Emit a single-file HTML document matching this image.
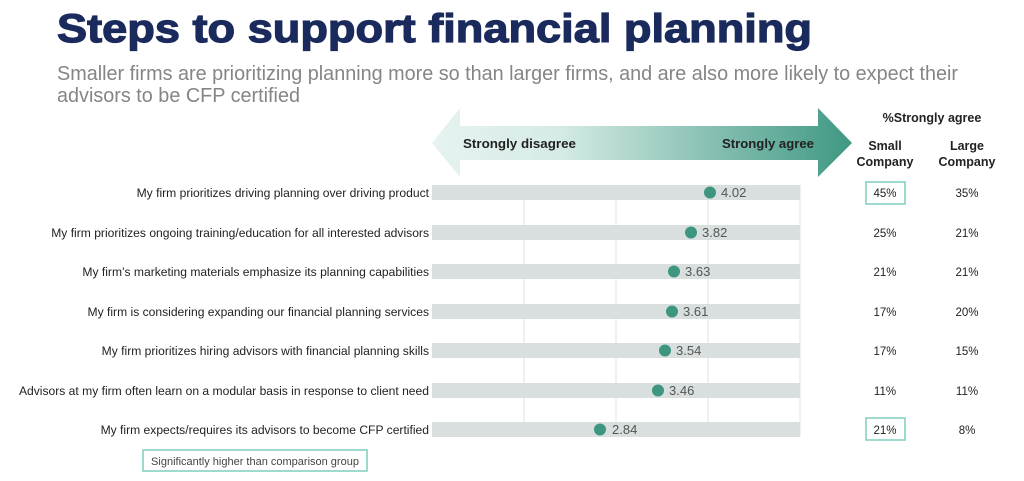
<!DOCTYPE html>
<html><head><meta charset="utf-8"><style>
html,body{margin:0;padding:0;background:#fff;}
svg{display:block;font-family:"Liberation Sans",Arial,sans-serif;}
</style></head><body>
<svg width="1024" height="481" viewBox="0 0 1024 481" xmlns="http://www.w3.org/2000/svg">
<defs>
<linearGradient id="g" x1="0" x2="1" y1="0" y2="0">
<stop offset="0" stop-color="#e6f3f0"/>
<stop offset="0.3" stop-color="#d6ebe6"/>
<stop offset="1" stop-color="#3f9883"/>
</linearGradient>
</defs>
<text x="57" y="42" font-size="40" font-weight="bold" fill="#1b2a5c" textLength="755" lengthAdjust="spacingAndGlyphs" stroke="#1b2a5c" stroke-width="1.2">Steps to support financial planning</text>
<text x="57" y="80" font-size="20" fill="#858585" textLength="901" lengthAdjust="spacingAndGlyphs">Smaller firms are prioritizing planning more so than larger firms, and are also more likely to expect their</text>
<text x="57" y="102" font-size="20" fill="#858585" textLength="243" lengthAdjust="spacingAndGlyphs">advisors to be CFP certified</text>
<polygon points="432,143 460,108 460,126 818,126 818,108 852,143 818,177 818,160 460,160 460,177" fill="url(#g)"/>
<text x="463" y="148" font-size="12.5" font-weight="bold" fill="#222" textLength="113" lengthAdjust="spacingAndGlyphs">Strongly disagree</text>
<text x="722" y="148" font-size="12.5" font-weight="bold" fill="#222" textLength="92" lengthAdjust="spacingAndGlyphs">Strongly agree</text>
<text x="932" y="122" font-size="12.5" font-weight="bold" fill="#222" text-anchor="middle">%Strongly  agree</text>
<text x="885" y="150" font-size="12.5" font-weight="bold" fill="#222" text-anchor="middle">Small</text>
<text x="885" y="166" font-size="12.5" font-weight="bold" fill="#222" text-anchor="middle">Company</text>
<text x="967" y="150" font-size="12.5" font-weight="bold" fill="#222" text-anchor="middle">Large</text>
<text x="967" y="166" font-size="12.5" font-weight="bold" fill="#222" text-anchor="middle">Company</text>
<g stroke="#dfe3e3" stroke-width="1">
<line x1="524" y1="185" x2="524" y2="436"/>
<line x1="616" y1="185" x2="616" y2="436"/>
<line x1="708" y1="185" x2="708" y2="436"/>
<line x1="800" y1="185" x2="800" y2="436"/>
</g>
<g fill="#d8dfde">
<rect x="432" y="185" width="368" height="15"/>
<rect x="432" y="225" width="368" height="15"/>
<rect x="432" y="264" width="368" height="15"/>
<rect x="432" y="304" width="368" height="15"/>
<rect x="432" y="343" width="368" height="15"/>
<rect x="432" y="383" width="368" height="15"/>
<rect x="432" y="422" width="368" height="15"/>
</g>
<g font-size="12.1" fill="#222" text-anchor="end">
<text x="429" y="197">My firm prioritizes driving planning over driving product</text>
<text x="429" y="237">My firm prioritizes ongoing training/education for all interested advisors</text>
<text x="429" y="276">My firm’s marketing materials emphasize its planning capabilities</text>
<text x="429" y="316">My firm is considering expanding our financial planning services</text>
<text x="429" y="355">My firm prioritizes hiring advisors with financial planning skills</text>
<text x="429" y="395">Advisors at my firm often learn on a modular basis in response to client need</text>
<text x="429" y="434">My firm expects/requires its advisors to become CFP certified</text>
</g>
<g fill="#3e9681">
<circle cx="710" cy="192.5" r="6"/>
<circle cx="691" cy="232.5" r="6"/>
<circle cx="674" cy="271.5" r="6"/>
<circle cx="672" cy="311.5" r="6"/>
<circle cx="665" cy="350.5" r="6"/>
<circle cx="658" cy="390.5" r="6"/>
<circle cx="600" cy="429.5" r="6"/>
</g>
<g font-size="13" fill="#555">
<text x="721" y="197">4.02</text>
<text x="702" y="237">3.82</text>
<text x="685" y="276">3.63</text>
<text x="683" y="316">3.61</text>
<text x="676" y="355">3.54</text>
<text x="669" y="395">3.46</text>
<text x="612" y="434">2.84</text>
</g>
<g fill="none" stroke="#7fcdbd" stroke-width="1.5">
<rect x="866" y="182" width="39" height="22"/>
<rect x="866" y="418" width="39" height="22"/>
<rect x="143" y="450" width="224" height="21"/>
</g>
<g font-size="11.5" fill="#222" text-anchor="middle">
<text x="885" y="197">45%</text><text x="967" y="197">35%</text>
<text x="885" y="237">25%</text><text x="967" y="237">21%</text>
<text x="885" y="276">21%</text><text x="967" y="276">21%</text>
<text x="885" y="316">17%</text><text x="967" y="316">20%</text>
<text x="885" y="355">17%</text><text x="967" y="355">15%</text>
<text x="885" y="395">11%</text><text x="967" y="395">11%</text>
<text x="885" y="434">21%</text><text x="967" y="434">8%</text>
</g>
<text x="255" y="465" font-size="11" fill="#444" text-anchor="middle">Significantly higher than comparison group</text>
</svg>
</body></html>
